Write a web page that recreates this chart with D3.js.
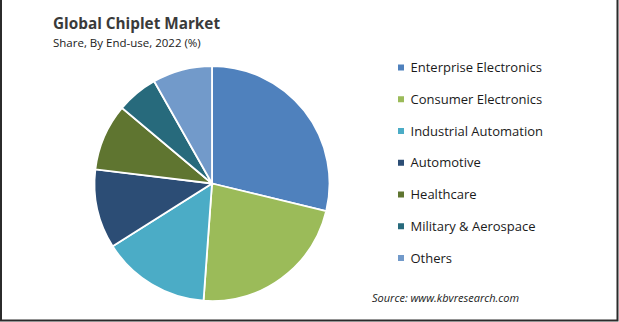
<!DOCTYPE html>
<html lang="en">
<head>
    <meta charset="UTF-8">
    <title>Global Chiplet Market</title>
    <script src="https://d3js.org/d3.v7.min.js"></script>
    <style>
        body {
            margin: 0;
            background: #fff;
        }
        svg {
            display: block;
            font-family: "Open Sans", "Noto Sans", sans-serif;
        }
    </style>
</head>
<body>
<div id="chart"></div>
<script>
    // share by end-use, 2022 (%)
    var categories = ['Enterprise Electronics', 'Consumer Electronics', 'Industrial Automation',
                      'Automotive', 'Healthcare', 'Military & Aerospace', 'Others'];
    var shares = [28.8, 22.4, 14.9, 10.9, 9.2, 5.7, 8.2];
    var colors = ['#4f81bd', '#9bbb59', '#4bacc6', '#2c4d75', '#5f7530', '#276a7c', '#729aca'];

    var w = 619, h = 322;
    var cx = 212, cy = 183.5, r = 117.5;

    var svg = d3.select('#chart')
                .append('svg')
                .attr('width', w)
                .attr('height', h);

    // frame (left, right, bottom)
    svg.append('path')
       .attr('d', 'M1,0 V320.5 H617.5 V0')
       .attr('fill', 'none')
       .attr('stroke', '#2b2b2b')
       .attr('stroke-width', 2);

    svg.append('text')
       .attr('x', 53)
       .attr('y', 29)
       .attr('font-size', '15.3px')
       .attr('font-weight', 'bold')
       .attr('fill', '#3a3a3a')
       .text('Global Chiplet Market');

    svg.append('text')
       .attr('x', 53)
       .attr('y', 47)
       .attr('font-size', '11.5px')
       .attr('fill', '#1a1a1a')
       .text('Share, By End-use, 2022 (%)');

    var data = categories.map(function(c, i){
        return {name: c, value: shares[i], color: colors[i]};
    });

    var pie = d3.pie()
                .sort(null)
                .value(function(d){ return d.value; });
    var arc = d3.arc().innerRadius(0).outerRadius(r);

    svg.append('g')
       .attr('transform', 'translate(' + cx + ',' + cy + ')')
       .selectAll('path')
       .data(pie(data))
       .enter()
       .append('path')
       .attr('d', arc)
       .attr('fill', function(d){ return d.data.color; })
       .attr('stroke', '#fff')
       .attr('stroke-width', 1.8);

    // legend
    var legendY = d3.scaleLinear().domain([0, 6]).range([67.5, 258]);
    var legend = svg.append('g').attr('id', 'legend');
    var rows = legend.selectAll('g')
                     .data(data)
                     .enter()
                     .append('g')
                     .attr('transform', function(d, i){ return 'translate(398,' + legendY(i) + ')'; });
    rows.append('rect')
        .attr('x', 0)
        .attr('y', -3)
        .attr('width', 6)
        .attr('height', 6)
        .attr('fill', function(d){ return d.color; });
    rows.append('text')
        .attr('x', 12.5)
        .attr('y', 4.5)
        .attr('font-size', '13px')
        .attr('fill', '#1a1a1a')
        .text(function(d){ return d.name; });

    svg.append('text')
       .attr('x', 372)
       .attr('y', 302)
       .attr('font-size', '11px')
       .attr('font-style', 'italic')
       .attr('fill', '#1a1a1a')
       .text('Source: www.kbvresearch.com');
</script>
</body>
</html>
